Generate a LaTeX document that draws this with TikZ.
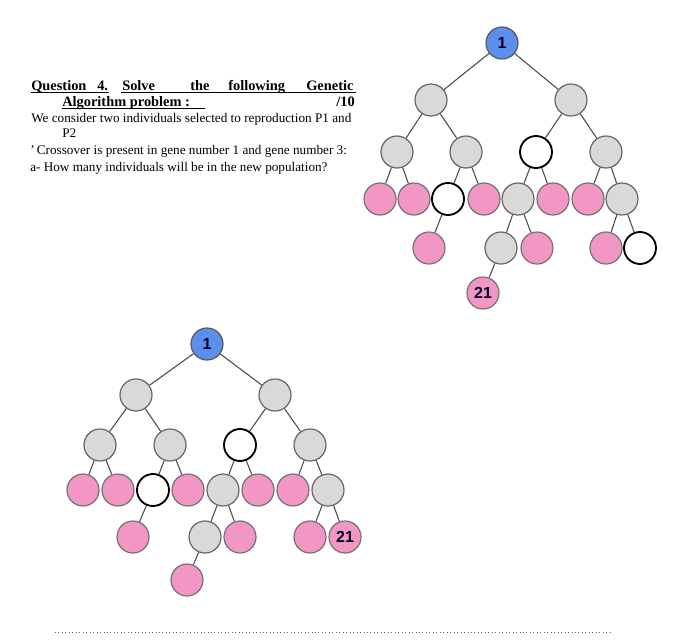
\documentclass[tikz,border=0pt]{standalone}
\usepackage{fontspec}
\setmainfont{Liberation Serif}
\setsansfont{Liberation Sans}
\definecolor{pk}{HTML}{F296C4}
\definecolor{bl}{HTML}{5C8EEE}
\begin{document}
\begin{tikzpicture}[x=0.75pt,y=-0.75pt,
  g/.style={circle,minimum size=24pt,inner sep=0pt,draw=black!60,line width=0.9pt},
  gray/.style={g,fill=black!15},
  pink/.style={g,fill=pk,draw=black!55},
  wht/.style={g,fill=white,draw=black,line width=1.4pt},
  blu/.style={g,fill=bl,draw=black!65},
  lbl/.style={font=\sffamily\bfseries\fontsize{12}{12}\selectfont,text=black!85!blue},
  e/.style={draw=black!70,line width=0.8pt},
  hd/.style={anchor=base west,inner sep=0pt,font=\bfseries\fontsize{10.8}{12}\selectfont},
  bd/.style={anchor=base west,inner sep=0pt,font=\fontsize{9.9}{11}\selectfont}]
\useasboundingbox (0,0) rectangle (700,643);
% text
\node[hd] (w1) at (31,90) {Question};
\node[hd] (w2) at (97,90) {4.};
\node[hd] (w3) at (122,90) {Solve};
\node[hd] (w4) at (190,90) {the};
\node[hd] (w5) at (228,90) {following};
\node[hd] (w6) at (306,90) {Genetic};
\draw[line width=0.6pt] (31,92) -- (109,92) (121,92) -- (356,92);
\node[hd] (h2) at (62,106) {Algorithm problem :};
\draw[line width=0.6pt] (62,108) -- (205,108);
\node[hd,anchor=base east] (h3) at (355,106) {/10};
\node[bd] (t1) at (31,122) {We consider two individuals selected to reproduction P1 and};
\node[bd] (t2) at (62,137) {P2};
\node[bd] (t3) at (30,154) {'\,Crossover is present in gene number 1 and gene number 3:};
\node[bd] (t4) at (30,171) {a- How many individuals will be in the new population?};
% top tree
\node[blu,lbl] (A) at (502,43) {1};
\node[gray] (A1) at (431,100) {};
\node[gray] (A2) at (571,100) {};
\node[gray] (A11) at (397,152) {};
\node[gray] (A12) at (466,152) {};
\node[wht] (A21) at (536,152) {};
\node[gray] (A22) at (606,152) {};
\node[pink] (B1) at (380,199) {};
\node[pink] (B2) at (414,199) {};
\node[wht] (B3) at (448,199) {};
\node[pink] (B4) at (484,199) {};
\node[gray] (B5) at (518,199) {};
\node[pink] (B6) at (553,199) {};
\node[pink] (B7) at (588,199) {};
\node[gray] (B8) at (622,199) {};
\node[pink] (C1) at (429,248) {};
\node[gray] (C2) at (501,248) {};
\node[pink] (C3) at (537,248) {};
\node[pink] (C4) at (606,248) {};
\node[wht] (C5) at (640,248) {};
\node[pink,lbl] (D1) at (483,293) {21};
\draw[e] (A)--(A1) (A)--(A2) (A1)--(A11) (A1)--(A12) (A2)--(A21) (A2)--(A22)
 (A11)--(B1) (A11)--(B2) (A12)--(B3) (A12)--(B4) (A21)--(B5) (A21)--(B6) (A22)--(B7) (A22)--(B8)
 (B3)--(C1) (B5)--(C2) (B5)--(C3) (B8)--(C4) (B8)--(C5) (C2)--(D1);
% bottom tree
\node[blu,lbl] (P) at (207,344) {1};
\node[gray] (P1) at (136,395) {};
\node[gray] (P2) at (275,395) {};
\node[gray] (P11) at (100,445) {};
\node[gray] (P12) at (170,445) {};
\node[wht] (P21) at (240,445) {};
\node[gray] (P22) at (310,445) {};
\node[pink] (Q1) at (83,490) {};
\node[pink] (Q2) at (118,490) {};
\node[wht] (Q3) at (153,490) {};
\node[pink] (Q4) at (188,490) {};
\node[gray] (Q5) at (223,490) {};
\node[pink] (Q6) at (258,490) {};
\node[pink] (Q7) at (293,490) {};
\node[gray] (Q8) at (328,490) {};
\node[pink] (R1) at (133,537) {};
\node[gray] (R2) at (205,537) {};
\node[pink] (R3) at (240,537) {};
\node[pink] (R4) at (310,537) {};
\node[pink,lbl] (R5) at (345,537) {21};
\node[pink] (S1) at (187,580) {};
\draw[e] (P)--(P1) (P)--(P2) (P1)--(P11) (P1)--(P12) (P2)--(P21) (P2)--(P22)
 (P11)--(Q1) (P11)--(Q2) (P12)--(Q3) (P12)--(Q4) (P21)--(Q5) (P21)--(Q6) (P22)--(Q7) (P22)--(Q8)
 (Q3)--(R1) (Q5)--(R2) (Q5)--(R3) (Q8)--(R4) (Q8)--(R5) (R2)--(S1);
% dotted line
\coordinate (L1) at (55,632); \coordinate (L2) at (610,632);
\draw[black!60,line width=0.6pt,dotted] (L1)--(L2);
\end{tikzpicture}
\end{document}
